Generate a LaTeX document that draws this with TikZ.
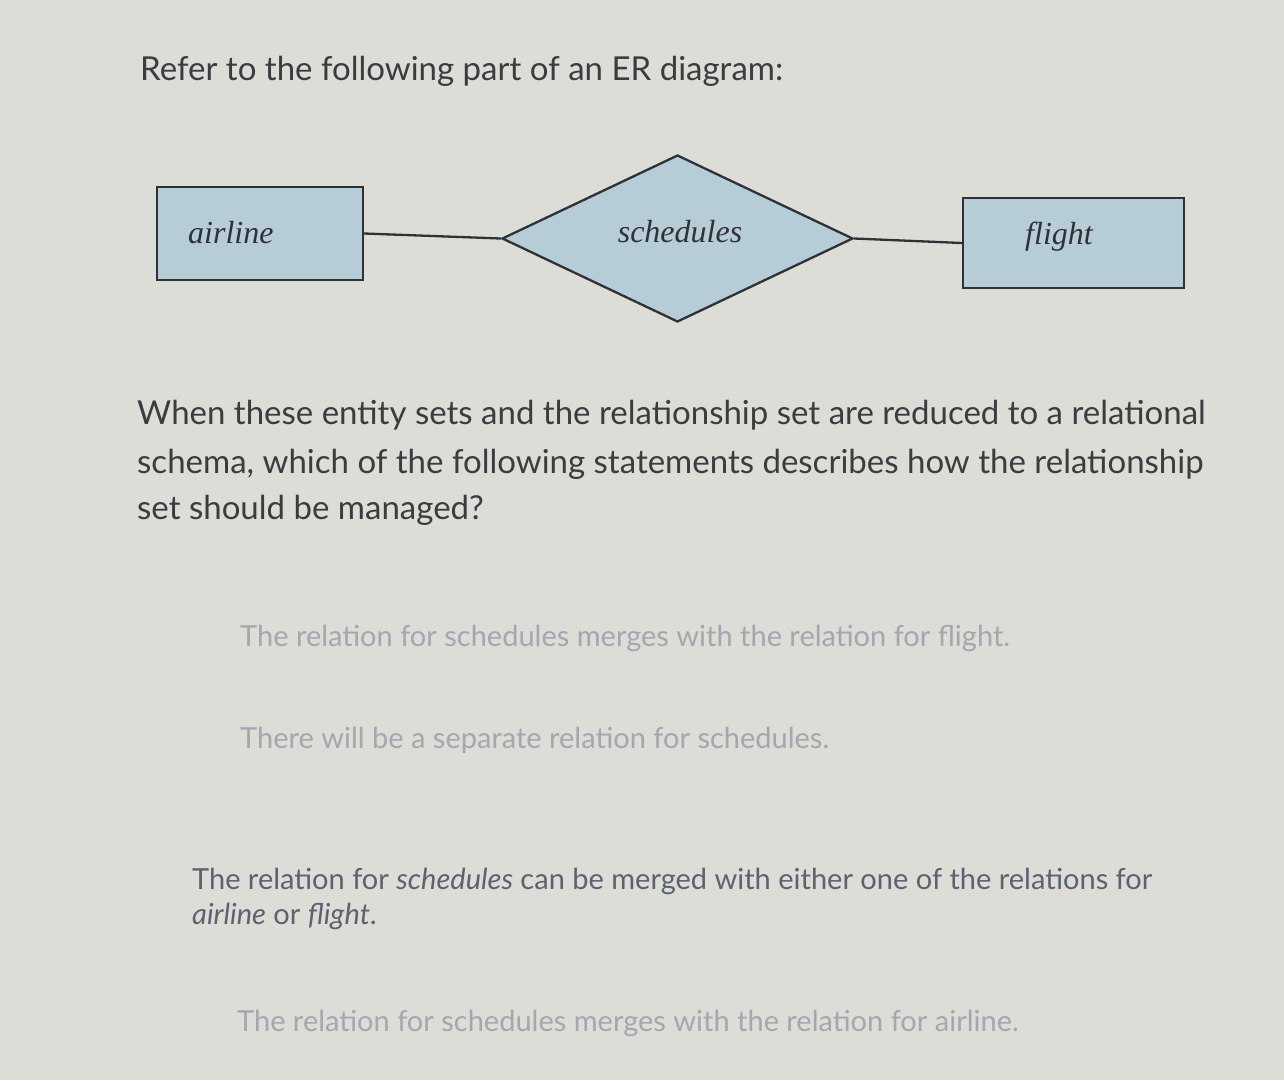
\documentclass[tikz,border=0pt]{standalone}
\usepackage{fontspec}
\setmainfont{Lato}
\newfontfamily\erfont{Liberation Serif}
\usetikzlibrary{shapes.geometric}
\definecolor{bgc}{HTML}{DCDDD6}
\definecolor{boxfill}{HTML}{B6CCD6}
\definecolor{edgec}{HTML}{2E3236}
\definecolor{titlec}{HTML}{3A3C40}
\definecolor{optdark}{HTML}{5C6270}
\definecolor{optfaint}{HTML}{A3A7AF}
\tikzset{
  entity/.style={draw=edgec, line width=2.3pt, fill=boxfill, inner sep=0pt},
  relship/.style={diamond, draw=edgec, line width=2.3pt, fill=boxfill, inner sep=0pt},
  erlabel/.style={font=\erfont\itshape\fontsize{32}{36}\selectfont, text=edgec, inner sep=0pt},
  conn/.style={draw=edgec, line width=2.3pt},
  bigtext/.style={font=\fontsize{33}{38}\selectfont, text=titlec, anchor=base west, inner sep=0pt},
  opttext/.style={font=\fontsize{29}{33}\selectfont, anchor=base west, inner sep=0pt},
}
\begin{document}
\begin{tikzpicture}[x=1pt,y=-1pt]
\fill[bgc] (0,0) rectangle (1284,1080);
\useasboundingbox (0,0) rectangle (1284,1080);

\node[bigtext] (title) at (140,80) {Refer to the following part of an ER diagram:};

\node[entity, minimum width=206pt, minimum height=93pt] (airline) at (260,233.5) {};
\node[erlabel, anchor=west] (airlinet) at (188,233) {airline};
\node[relship, minimum width=351pt, minimum height=167pt] (sched) at (677.5,238.5) {};
\node[erlabel] (schedt) at (680,232) {schedules};
\node[entity, minimum width=221pt, minimum height=90pt] (flight) at (1073.5,243) {};
\node[erlabel] (flightt) at (1059,237) {flight};

\draw[conn] (airline.east) -- (sched.west);
\draw[conn] (sched.east) -- (flight.west);

\node[bigtext] (q1) at (137,424) {When these entity sets and the relationship set are reduced to a relational};
\node[bigtext] (q2) at (137,473) {schema, which of the following statements describes how the relationship};
\node[bigtext] (q3) at (137,519) {set should be managed?};

\node[opttext, text=optfaint] (o1) at (240,646) {The relation for schedules merges with the relation for flight.};
\node[opttext, text=optfaint] (o2) at (240,748) {There will be a separate relation for schedules.};
\node[opttext, text=optdark] (o3a) at (192,889) {The relation for \textit{schedules} can be merged with either one of the relations for};
\node[opttext, text=optdark] (o3b) at (192,924) {\textit{airline} or \textit{flight}.};
\node[opttext, text=optfaint] (o4) at (237,1031) {The relation for schedules merges with the relation for airline.};
\end{tikzpicture}
\end{document}
